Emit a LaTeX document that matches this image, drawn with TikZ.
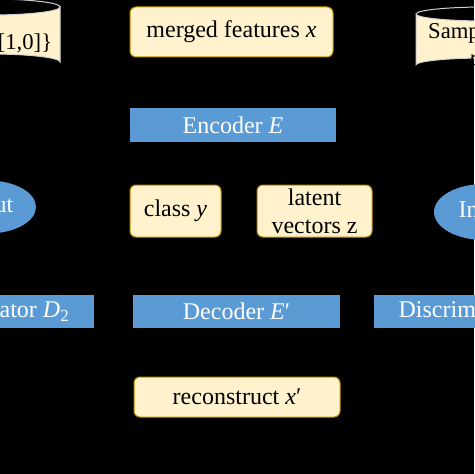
\documentclass[tikz,border=0pt]{standalone}
\usepackage{fontspec}
\setmainfont{Liberation Serif}
\usetikzlibrary{shapes.geometric}

\definecolor{boxfill}{HTML}{FFF2CC}
\definecolor{boxline}{HTML}{BF9000}
\definecolor{netblue}{HTML}{5B9BD5}
\definecolor{cylline}{HTML}{D0D0D0}

\tikzset{every picture/.style={line width=0.75pt}}
\tikzset{
  databox/.style={draw=boxline, fill=boxfill, rounded corners=4.5pt, align=center, inner sep=0pt, text=black},
  netbox/.style={fill=netblue, inner sep=0pt, text=white},
  netoval/.style={ellipse, fill=netblue, inner sep=0pt, text=white},
  cyltext/.style={align=center, inner sep=0.75pt, text=black, font=\fontsize{17}{20}\selectfont}
}

\begin{document}
\begin{tikzpicture}[x=0.75pt,y=0.75pt,yscale=-1, font=\fontsize{18}{20}\selectfont]
\useasboundingbox (0,0) rectangle (474,474);
%Shape: Background
\fill[black] (0,0) rectangle (474,474);

%Shape: Can [left samples]
\draw[cylline, fill=boxfill] (-80,7) -- (-80,62) arc[start angle=180, end angle=360, x radius=70, y radius=8] -- (60,7) arc[start angle=0, end angle=180, x radius=70, y radius=8] -- cycle ;
\draw[cylline] (-80,7) arc[start angle=180, end angle=360, x radius=70, y radius=8] ;
%Shape: Can [right samples]
\draw[cylline, fill=boxfill] (416,14) -- (416,65) arc[start angle=180, end angle=360, x radius=70, y radius=7] -- (556,14) arc[start angle=0, end angle=180, x radius=70, y radius=7] -- cycle ;
\draw[cylline] (416,14) arc[start angle=180, end angle=360, x radius=70, y radius=7] ;

% Text Node
\node[cyltext] (catsample) at (-5,43) {\{[0,1],[1,0]\}};
% Text Node
\node[cyltext] (priorsample) at (487,46.5) {Sample from\\\textit{p}(\textit{z})};

%Shape: Rounded Rect
\node[databox, minimum width=203*0.75pt, minimum height=50*0.75pt] (feat) at (231.5,32) {merged features \textit{x}};
%Shape: Rectangle
\node[netbox, minimum width=206*0.75pt, minimum height=34*0.75pt] (enc) at (233,125) {Encoder \textit{E}};
%Shape: Rounded Rect
\node[databox, minimum width=91*0.75pt, minimum height=52*0.75pt] (cls) at (175.5,211) {class \textit{y}};
%Shape: Rounded Rect
\node[databox, minimum width=115*0.75pt, minimum height=52*0.75pt, font=\fontsize{18}{21}\selectfont] (lat) at (314.5,211) {latent\\vectors z};
%Shape: Rectangle
\node[netbox, minimum width=207*0.75pt, minimum height=33*0.75pt] (dec) at (236.5,311.5) {Decoder \textit{E}′};
%Shape: Rounded Rect
\node[databox, minimum width=206*0.75pt, minimum height=40*0.75pt] (rec) at (237,397) {reconstruct \textit{x}′};

%Shape: Ellipse
\node[netoval, minimum width=96*0.75pt, minimum height=53*0.75pt] (inleft) at (-12,207) {Input};
%Shape: Ellipse
\node[netoval, minimum width=100*0.75pt, minimum height=56*0.75pt] (inright) at (484,212) {Input};
%Shape: Rectangle
\node[netbox, minimum width=215*0.75pt, minimum height=33*0.75pt] (disctwo) at (-13.5,311.5) {Discriminator \textit{D}\textsubscript{2}};
%Shape: Rectangle
\node[netbox, minimum width=215*0.75pt, minimum height=33*0.75pt] (discone) at (481.5,311.5) {Discriminator \textit{D}\textsubscript{1}};

\end{tikzpicture}
\end{document}
